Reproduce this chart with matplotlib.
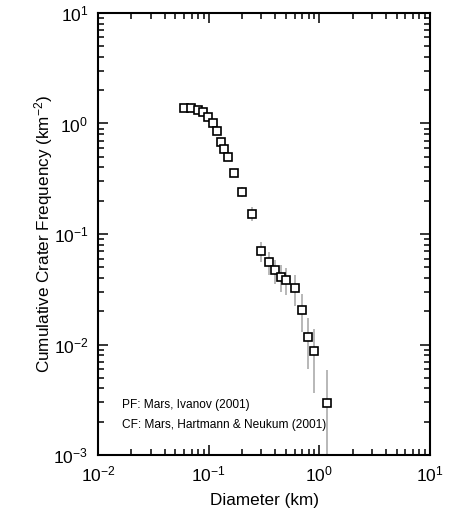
"""
Cumulative crater size-frequency plot.
"""

import matplotlib
matplotlib.use("Agg")
import matplotlib.pyplot as plt
from matplotlib.ticker import LogLocator
import numpy as np

diameter_km = [
    0.0594, 0.0697, 0.0795, 0.0893, 0.0986, 0.1087, 0.119, 0.128,
    0.138, 0.1486, 0.169, 0.1986, 0.248, 0.296, 0.348, 0.397,
    0.447, 0.499, 0.598, 0.692, 0.794, 0.900, 1.18,
]
cum_freq = [
    1.39, 1.37, 1.33, 1.26, 1.14, 1.00, 0.861, 0.684,
    0.588, 0.501, 0.359, 0.240, 0.153, 0.0706, 0.0558, 0.0469,
    0.0411, 0.0384, 0.0323, 0.0207, 0.0117, 0.00873, 0.00294,
]
freq_err = [
    0.064, 0.063, 0.062, 0.061, 0.058, 0.054, 0.050, 0.045,
    0.041, 0.038, 0.032, 0.026, 0.021, 0.0146, 0.013, 0.0117,
    0.0111, 0.0106, 0.0100, 0.0078, 0.0057, 0.0051, 0.00293,
]
notes = [
    "PF: Mars, Ivanov (2001)",
    "CF: Mars, Hartmann & Neukum (2001)",
]

plt.rcParams["font.family"] = ["Liberation Sans", "DejaVu Sans"]
plt.rcParams["mathtext.fontset"] = "custom"
plt.rcParams["mathtext.rm"] = "Liberation Sans"
plt.rcParams["mathtext.it"] = "Liberation Sans"

fig = plt.figure(figsize=(4.74, 5.17), dpi=100)
ax = fig.add_axes([0.2068, 0.1199, 0.7004, 0.855])

ax.errorbar(
    diameter_km,
    cum_freq,
    yerr=freq_err,
    fmt="none",
    ecolor="#b8b8b8",
    elinewidth=1.4,
    capsize=0,
    zorder=1,
)
ax.plot(
    diameter_km,
    cum_freq,
    linestyle="none",
    marker="s",
    markersize=5.3,
    markerfacecolor="white",
    markeredgecolor="black",
    markeredgewidth=1.2,
    zorder=2,
)

ax.set_xscale("log")
ax.set_yscale("log")
ax.set_xlim(1e-2, 1e1)
ax.set_ylim(1e-3, 1e1)

for axis in (ax.xaxis, ax.yaxis):
    axis.set_major_locator(LogLocator(base=10, numticks=10))
    axis.set_minor_locator(LogLocator(base=10, subs=np.arange(2, 10), numticks=10))

ax.tick_params(
    which="both", direction="in", top=True, right=True,
    width=1.1, labelsize=12.5,
)
ax.tick_params(which="major", length=7, pad=7)
ax.tick_params(which="minor", length=4)

for spine in ax.spines.values():
    spine.set_linewidth(1.5)

ax.set_xlabel("Diameter (km)", fontsize=12.3, labelpad=6)
ax.set_ylabel("Cumulative Crater Frequency (km$^{-2}$)", fontsize=12.3, labelpad=-1)

ax.text(0.072, 0.114, notes[0], transform=ax.transAxes, fontsize=8.6, va="center")
ax.text(0.072, 0.069, notes[1], transform=ax.transAxes, fontsize=8.6, va="center")

fig.savefig("out.png", dpi=100)
